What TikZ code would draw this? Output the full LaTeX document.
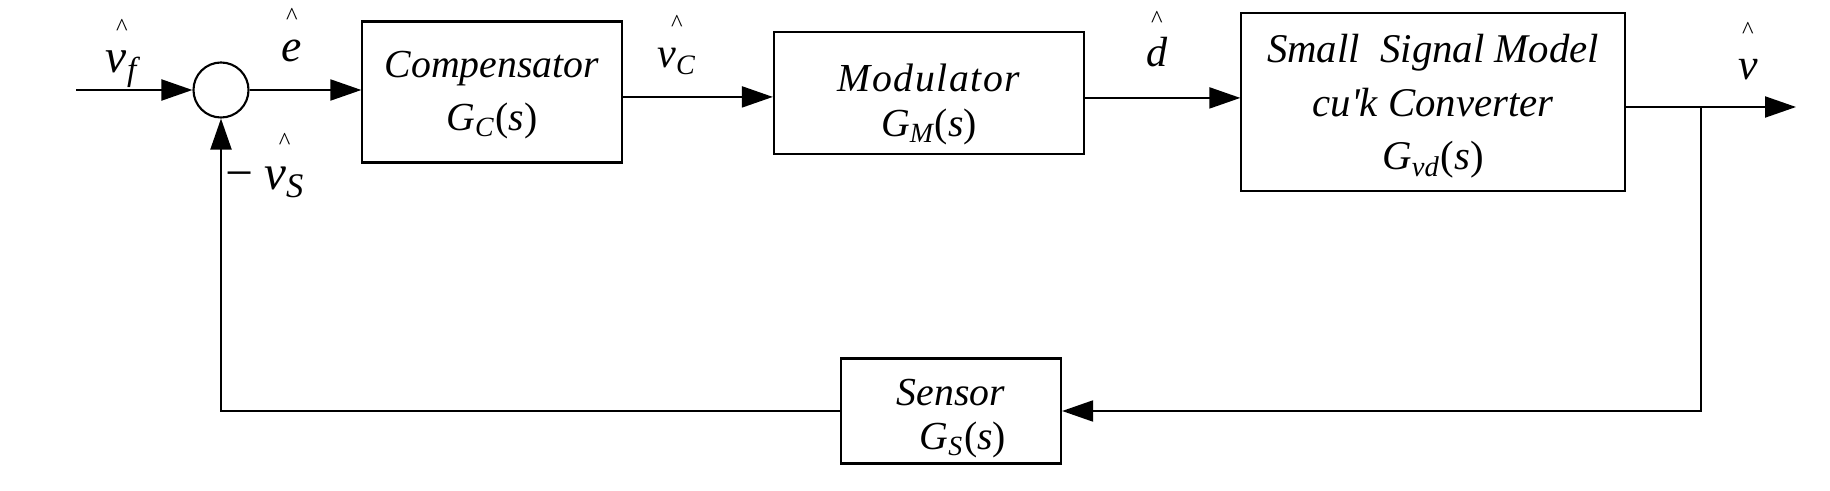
\documentclass[tikz,border=0pt]{standalone}
\usepackage{fontspec}
\setmainfont{Liberation Serif}
\usetikzlibrary{arrows.meta}
\newcommand{\hatlbl}[2][1pt]{\shortstack{{\upshape\scriptsize\raisebox{#1}{\textasciicircum}}\\#2}}
\newcommand{\sigvar}[2]{\textit{#1}\textsubscript{\textit{#2}}}
\newcommand{\gfun}[1]{\textit{G}\textsubscript{\textit{#1}}\textup{(}\textit{s}\textup{)}}
\newcommand{\topgap}[1]{\rule{0pt}{#1}}

\begin{document}
\begin{tikzpicture}[
  x=0.01cm, y=-0.01cm,
  block/.style={draw,line width=0.6pt,align=center,inner sep=0pt},
  sumjunction/.style={draw,circle,line width=0.6pt,minimum size=0.55cm,inner sep=0pt},
  arrow/.style={-{Triangle[length=3.1mm,width=2.1mm]},line width=0.6pt},
  line/.style={line width=0.6pt},
  sig/.style={anchor=base,inner sep=0pt}
]
\useasboundingbox (0,0) rectangle (1830,491);

% blocks
\node[sumjunction] (sum) at (221,90) {};
\node[block,minimum width=2.59cm,minimum height=1.41cm,font=\fontsize{11.3}{15}\selectfont\itshape] (comp) at (492,92) {\topgap{9.3pt}Compensator\\\gfun{C}};
\node[block,minimum width=3.10cm,minimum height=1.22cm,font=\fontsize{11.3}{13}\selectfont\itshape] (mod) at (929,93) {\topgap{14.3pt}{\addfontfeatures{LetterSpace=4}Modulator}\\\gfun{M}};
\node[block,minimum width=3.83cm,minimum height=1.78cm,font=\fontsize{11.6}{15.3}\selectfont\itshape] (plant) at (1433,102) {\topgap{10.5pt}Small\ \ Signal Model\\cu\textquotesingle k Converter\\\gfun{vd}};
\node[block,minimum width=2.20cm,minimum height=1.05cm,font=\fontsize{11.3}{12.5}\selectfont\itshape] (sensor) at (951,411) {\topgap{11.7pt}Sensor\\\hspace{0.6em}\gfun{S}};

% signal labels
\node[sig,font=\fontsize{13.5}{16}\selectfont\itshape] (vf) at (122,73) {\hatlbl[1.5pt]{\sigvar{v}{f}}};
\node[sig,font=\fontsize{13}{15}\selectfont\itshape] (e) at (292,62) {\hatlbl[1.5pt]{e}};
\node[sig,font=\fontsize{14}{16}\selectfont\itshape] (vs) at (264,190) {\symbol{"2212}\,\hatlbl[2pt]{\sigvar{v}{S}}};
\node[sig,font=\fontsize{12}{14}\selectfont\itshape] (vc) at (677,68) {\hatlbl[2pt]{\sigvar{v}{C}}};
\node[sig,font=\fontsize{12}{14}\selectfont\itshape] (dh) at (1157,67) {\hatlbl[0pt]{d}};
\node[sig,font=\fontsize{12.5}{14}\selectfont\itshape] (vo) at (1748,80) {\hatlbl[3pt]{v}};

\coordinate (in) at (76,90);
\coordinate (branch) at (1701,107);
\coordinate (out) at (1796,107);

% connectors
\draw[arrow] (in) -- (sum.west);
\draw[arrow] (sum.east) -- (sum.east -| comp.west);
\draw[arrow] ([yshift=-1.4pt]comp.east) -- ([yshift=-1.4pt]comp.east -| mod.west);
\draw[arrow] ([yshift=-1.4pt]mod.east) -- ([yshift=-1.4pt]mod.east -| plant.west);
\draw[line] (plant.east |- branch) -- (branch);
\draw[arrow] (branch) -- (out);
\draw[arrow] (branch) |- (sensor.east);
\draw[arrow] (sensor.west) -| (sum.south);
\end{tikzpicture}
\end{document}
